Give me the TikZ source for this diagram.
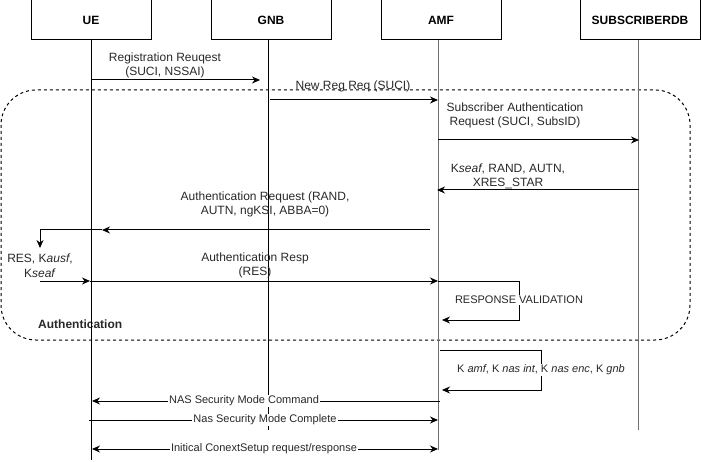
\documentclass[tikz,border=0pt]{standalone}
\usepackage{fontspec}
\setmainfont{Liberation Sans}
\usetikzlibrary{arrows.meta}
\definecolor{txt}{RGB}{40,40,40}
\definecolor{lgray}{RGB}{110,110,110}
\begin{document}
\begin{tikzpicture}[x=1pt,y=-1pt,
  actor/.style={draw=black,line width=1pt,minimum width=120pt,minimum height=40pt,inner sep=0pt,font=\fontsize{12}{14}\selectfont\bfseries},
  life/.style={line width=1pt,draw=black},
  lifeg/.style={line width=1pt,draw=lgray},
  msg/.style={line width=1pt,-{Stealth[length=8pt,width=7pt]}},
  lbl/.style={align=center,text=txt,inner sep=1pt,font=\fontsize{12}{14.5}\selectfont},
  onl/.style={lbl,fill=white,font=\fontsize{11}{13}\selectfont},
  grp/.style={draw=black,line width=1pt,dash pattern=on 3pt off 3pt,rounded corners=35pt}
]
\useasboundingbox (0,0) rectangle (701,462);
% group frame
\draw[grp] (1,90) rectangle (690,340);
\node[lbl,anchor=west,font=\fontsize{12}{14}\selectfont\bfseries] (authlbl) at (37,324) {Authentication};
% actors
\node[actor] (ue) at (91,20) {UE};
\node[actor] (gnb) at (271,20) {GNB};
\node[actor] (amf) at (441,20) {AMF};
\node[actor] (sdb) at (640,20) {SUBSCRIBERDB};
% lifeline ends
\coordinate (ueE) at (91,460);
\coordinate (gnbE) at (268,430);
\coordinate (amfE) at (438,450);
\coordinate (sdbE) at (638,430);
\draw[life] (ue.south -| ueE) -- (ueE);
\draw[life] (gnb.south -| gnbE) -- (gnbE);
\draw[lifeg] (amf.south -| amfE) -- (amfE);
\draw[lifeg] (sdb.south -| sdbE) -- (sdbE);
% message endpoints
\coordinate (m1a) at (91,80);  \coordinate (m1b) at (260,80);
\coordinate (m2a) at (270,100); \coordinate (m2b) at (438,100);
\coordinate (m3a) at (438,140); \coordinate (m3b) at (639,140);
\coordinate (m4a) at (639,190); \coordinate (m4b) at (437,190);
\coordinate (m5a) at (430,230); \coordinate (m5b) at (102,230); \coordinate (m5c) at (40,230); \coordinate (m5d) at (40,248);
\coordinate (m6a) at (40,281); \coordinate (m6b) at (90,281); \coordinate (m6c) at (438,281);
\coordinate (m7a) at (519,281); \coordinate (m7b) at (519,320); \coordinate (m7c) at (442,320);
\coordinate (m8a) at (440,350); \coordinate (m8b) at (541,350); \coordinate (m8c) at (541,390); \coordinate (m8d) at (442,390);
\coordinate (m9a) at (440,401); \coordinate (m9b) at (92,401);
\coordinate (m10a) at (89,420); \coordinate (m10b) at (438,420);
\coordinate (m11a) at (92,449); \coordinate (m11b) at (438,449);
% messages
\draw[msg] (m1a) -- (m1b);
\node[lbl] (l1) at (165,65.5) {Registration Reuqest\\(SUCI, NSSAI)};
\draw[msg] (m2a) -- (m2b);
\node[lbl] (l2) at (353,86) {New Reg Req (SUCI)};
\draw[msg] (m3a) -- (m3b);
\node[lbl] (l3) at (515,115.5) {Subscriber Authentication\\Request (SUCI, SubsID)};
\draw[msg] (m4a) -- (m4b);
\node[lbl] (l4) at (508,176.5) {K\textit{seaf}, RAND, AUTN,\\XRES\_STAR};
\draw[msg] (m5a) -- (m5b);
\draw[msg] (m5b) -- (m5c) -- (m5d);
\node[lbl] (l5) at (265,204.5) {Authentication Request (RAND,\\AUTN, ngKSI, ABBA=0)};
\node[lbl] (l6) at (40,265.5) {RES, K\textit{ausf},\\K\textit{seaf}};
\draw[msg] (m6a) -- (m6b);
\draw[msg] (m6b) -- (m6c);
\node[lbl] (l7) at (255,265.5) {Authentication Resp\\(RES)};
\draw[msg] (m6c) -- (m7a) -- (m7b) -- (m7c);
\node[onl] (l8) at (519,300) {RESPONSE VALIDATION};
\draw[msg] (m8a) -- (m8b) -- (m8c) -- (m8d);
\node[onl] (l9) at (541,370) {K \textit{amf}, K \textit{nas int}, K \textit{nas enc}, K \textit{gnb}};
\draw[msg] (m9a) -- (m9b);
\node[onl] (l10) at (244,401) {NAS Security Mode Command};
\draw[msg] (m10a) -- (m10b);
\node[onl] (l11) at (265,420) {Nas Security Mode Complete};
\draw[msg,{Stealth[length=8pt,width=7pt]}-{Stealth[length=8pt,width=7pt]}] (m11a) -- (m11b);
\node[onl] (l12) at (264,449) {Initical ConextSetup request/response};
\end{tikzpicture}
\end{document}
